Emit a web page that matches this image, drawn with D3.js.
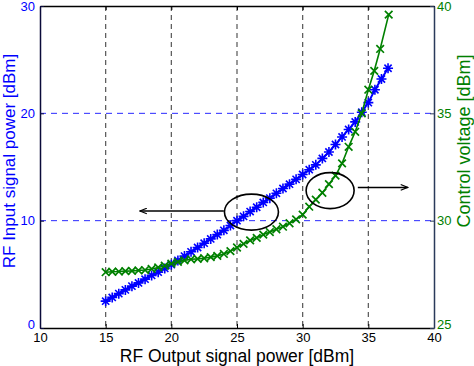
<!DOCTYPE html>
<html>
<head>
<meta charset="utf-8">
<script src="https://cdn.jsdelivr.net/npm/d3@7"></script>
<style>
  body { margin: 0; background: #fff; }
  svg text { font-family: "Liberation Sans", Arial, Helvetica, sans-serif; }
</style>
</head>
<body>
<div class="layout"></div>
<script>
// output power (x), shared by both curves
var inputX = [15, 15.5, 16, 16.5, 17, 17.5, 18, 18.5, 19, 19.5, 20, 20.5, 21, 21.5, 22, 22.5, 23, 23.5, 24, 24.5,
              25, 25.5, 26, 26.5, 27, 27.5, 28, 28.5, 29, 29.5, 30, 30.5, 31, 31.5, 32, 32.5, 33, 33.5, 34, 34.5,
              35, 35.5, 36, 36.5];
var inputY = [2.5, 2.85, 3.2, 3.55, 3.9, 4.2, 4.55, 4.9, 5.2, 5.55, 5.9, 6.3, 6.7, 7.1, 7.5, 7.9, 8.3, 8.7, 9.1, 9.55,
              10.0, 10.4, 10.85, 11.25, 11.7, 12.1, 12.55, 13.0, 13.4, 13.85, 14.3, 14.75, 15.2, 15.8, 16.4, 17.1, 17.8, 18.5, 19.2, 20.1,
              21.0, 22.2, 23.2, 24.2];

var controlX = [15, 15.5, 16, 16.5, 17, 17.5, 18, 18.5, 19, 19.5, 20, 20.5, 21, 21.5, 22, 22.5, 23, 23.5, 24, 24.5,
                25, 25.5, 26, 26.5, 27, 27.5, 28, 28.5, 29, 29.5, 30, 30.5, 31, 31.5, 32, 32.5, 33, 33.5, 34, 34.5,
                35, 35.45, 35.9, 36.55];
var controlY = [27.6, 27.62, 27.63, 27.65, 27.66, 27.68, 27.7, 27.75, 27.82, 27.9, 28.0, 28.08, 28.15, 28.2, 28.22, 28.25, 28.3, 28.36, 28.45, 28.58,
                28.75, 28.92, 29.08, 29.2, 29.35, 29.47, 29.6, 29.72, 29.88, 30.06, 30.28, 30.65, 30.98, 31.3, 31.7, 32.1, 32.67, 33.44, 34.14, 35.0,
                36.1, 36.98, 38.0, 39.6];

var xTicks = [10, 15, 20, 25, 30, 35, 40];
var leftTicks = [0, 10, 20, 30];
var rightTicks = [25, 30, 35, 40];

// annotation ellipses and arrows, in data units (x, left y)
var ellipses = [{x: 26.1, y: 10.8}, {x: 32.09, y: 12.8}];
var arrows = [{x1: 24.0, x2: 17.6, y: 10.9}, {x1: 34.2, x2: 38.0, y: 13.1}];

var W = 474, H = 366;
var margin = {top: 6, right: 40, bottom: 38, left: 40},
    width = W - margin.left - margin.right,
    height = H - margin.top - margin.bottom;

var blue = "#0000ff", green = "#008000";

var x = d3.scaleLinear().domain([10, 40]).range([0, width]);
var yL = d3.scaleLinear().domain([0, 30]).range([height, 0]);
var yR = d3.scaleLinear().domain([25, 40]).range([height, 0]);

var svg = d3.select(".layout").append("svg")
    .attr("width", W)
    .attr("height", H);
svg.append("rect").attr("width", W).attr("height", H).attr("fill", "#fff");

var g = svg.append("g")
    .attr("transform", "translate(" + margin.left + "," + margin.top + ")");

var defs = svg.append("defs");
defs.append("marker")
    .attr("id", "head")
    .attr("viewBox", "0 -5 10 10")
    .attr("refX", 10)
    .attr("refY", 0)
    .attr("markerWidth", 9)
    .attr("markerHeight", 7)
    .attr("markerUnits", "userSpaceOnUse")
    .attr("orient", "auto")
    .append("path")
    .attr("d", "M0,-4L10,0L0,4")
    .attr("fill", "none")
    .attr("stroke", "#000")
    .attr("stroke-width", 1.6);

// grid
g.append("g").selectAll("line")
    .data(xTicks.filter(function(d) { return d > 10 && d < 40; }))
    .enter().append("line")
    .attr("x1", function(d) { return x(d); })
    .attr("x2", function(d) { return x(d); })
    .attr("y1", 0).attr("y2", height)
    .attr("stroke", "#555")
    .attr("stroke-width", 1.2)
    .attr("stroke-dasharray", "5,4");

g.append("g").selectAll("line")
    .data(leftTicks.filter(function(d) { return d > 0 && d < 30; }))
    .enter().append("line")
    .attr("x1", 0).attr("x2", width)
    .attr("y1", function(d) { return yL(d); })
    .attr("y2", function(d) { return yL(d); })
    .attr("stroke", "#2a2aff")
    .attr("stroke-width", 1)
    .attr("stroke-dasharray", "6,5");

// blue input-power curve
var inputData = inputX.map(function(d, i) { return [d, inputY[i]]; });
g.append("path")
    .datum(inputData)
    .attr("fill", "none")
    .attr("stroke", blue)
    .attr("stroke-width", 2)
    .attr("d", d3.line().x(function(d) { return x(d[0]); }).y(function(d) { return yL(d[1]); }));

var s = 5, s2 = 3.6;
function star() {
    return "M" + (-s) + ",0L" + s + ",0M0," + (-s) + "L0," + s +
           "M" + (-s2) + "," + (-s2) + "L" + s2 + "," + s2 +
           "M" + (-s2) + "," + s2 + "L" + s2 + "," + (-s2);
}
g.append("g").selectAll("path")
    .data(inputData)
    .enter().append("path")
    .attr("transform", function(d) { return "translate(" + x(d[0]) + "," + yL(d[1]) + ")"; })
    .attr("d", star())
    .attr("stroke", blue)
    .attr("stroke-width", 1.6)
    .attr("fill", "none");

// green control-voltage curve
var controlData = controlX.map(function(d, i) { return [d, controlY[i]]; });
g.append("path")
    .datum(controlData)
    .attr("fill", "none")
    .attr("stroke", green)
    .attr("stroke-width", 1.6)
    .attr("d", d3.line().x(function(d) { return x(d[0]); }).y(function(d) { return yR(d[1]); }));

var c = 3.8;
g.append("g").selectAll("path")
    .data(controlData)
    .enter().append("path")
    .attr("transform", function(d) { return "translate(" + x(d[0]) + "," + yR(d[1]) + ")"; })
    .attr("d", "M" + (-c) + "," + (-c) + "L" + c + "," + c + "M" + (-c) + "," + c + "L" + c + "," + (-c))
    .attr("stroke", green)
    .attr("stroke-width", 1.7)
    .attr("fill", "none");

// annotations
g.append("g").selectAll("ellipse")
    .data(ellipses)
    .enter().append("ellipse")
    .attr("cx", function(d) { return x(d.x); })
    .attr("cy", function(d) { return yL(d.y); })
    .attr("rx", function(d, i) { return i === 0 ? 27 : 24; })
    .attr("ry", 18)
    .attr("fill", "none")
    .attr("stroke", "#000")
    .attr("stroke-width", 1.6);

g.append("g").selectAll("line")
    .data(arrows)
    .enter().append("line")
    .attr("x1", function(d) { return x(d.x1); })
    .attr("x2", function(d) { return x(d.x2); })
    .attr("y1", function(d) { return yL(d.y); })
    .attr("y2", function(d) { return yL(d.y); })
    .attr("stroke", "#000")
    .attr("stroke-width", 1.5)
    .attr("marker-end", "url(#head)");

// axes
var xAxis = g.append("g")
    .attr("transform", "translate(0," + height + ")")
    .call(d3.axisBottom(x).tickValues(xTicks).tickSizeInner(-4).tickSizeOuter(0).tickPadding(5));
var xTop = g.append("g")
    .call(d3.axisTop(x).tickValues(xTicks).tickSizeInner(-4).tickSizeOuter(0).tickFormat(""));
var yAxisL = g.append("g")
    .call(d3.axisLeft(yL).tickValues(leftTicks).tickSizeInner(-4).tickSizeOuter(0).tickPadding(5));
var yAxisR = g.append("g")
    .attr("transform", "translate(" + width + ",0)")
    .call(d3.axisRight(yR).tickValues(rightTicks).tickSizeInner(-4).tickSizeOuter(0).tickPadding(3));

[xAxis, xTop].forEach(function(a) {
    a.select(".domain").attr("stroke", "#000").attr("stroke-width", 1.5);
    a.selectAll(".tick line").attr("stroke", "#000");
});
xAxis.selectAll("text").attr("fill", "#000").style("font-size", "13px");
yAxisL.select(".domain").attr("stroke", "#0a0a3a").attr("stroke-width", 1.5);
yAxisL.selectAll(".tick line").attr("stroke", "#0a0a3a");
yAxisL.selectAll("text").attr("fill", blue).style("font-size", "13px");
yAxisR.select(".domain").attr("stroke", "#2a3a5a").attr("stroke-width", 1.5);
yAxisR.selectAll(".tick line").attr("stroke", "#2a3a5a");
yAxisR.selectAll("text").attr("fill", green).style("font-size", "13px");

// lift the bottom-most y labels a little so they clear the x labels
yAxisL.selectAll(".tick").filter(function(d) { return d === 0; }).select("text").attr("dy", "0.05em");
yAxisR.selectAll(".tick").filter(function(d) { return d === 25; }).select("text").attr("dy", "0.05em");

// axis titles
svg.append("text")
    .attr("x", 237)
    .attr("y", 362)
    .attr("text-anchor", "middle")
    .style("font-size", "17.5px")
    .attr("fill", "#000")
    .text("RF Output signal power [dBm]");

svg.append("text")
    .attr("transform", "translate(15," + 161 + ") rotate(-90)")
    .attr("text-anchor", "middle")
    .style("font-size", "17px")
    .attr("fill", blue)
    .text("RF Input signal power [dBm]");

svg.append("text")
    .attr("transform", "translate(470," + 141 + ") rotate(-90)")
    .attr("text-anchor", "middle")
    .style("font-size", "18px")
    .attr("fill", green)
    .text("Control voltage [dBm]");
</script>
</body>
</html>
